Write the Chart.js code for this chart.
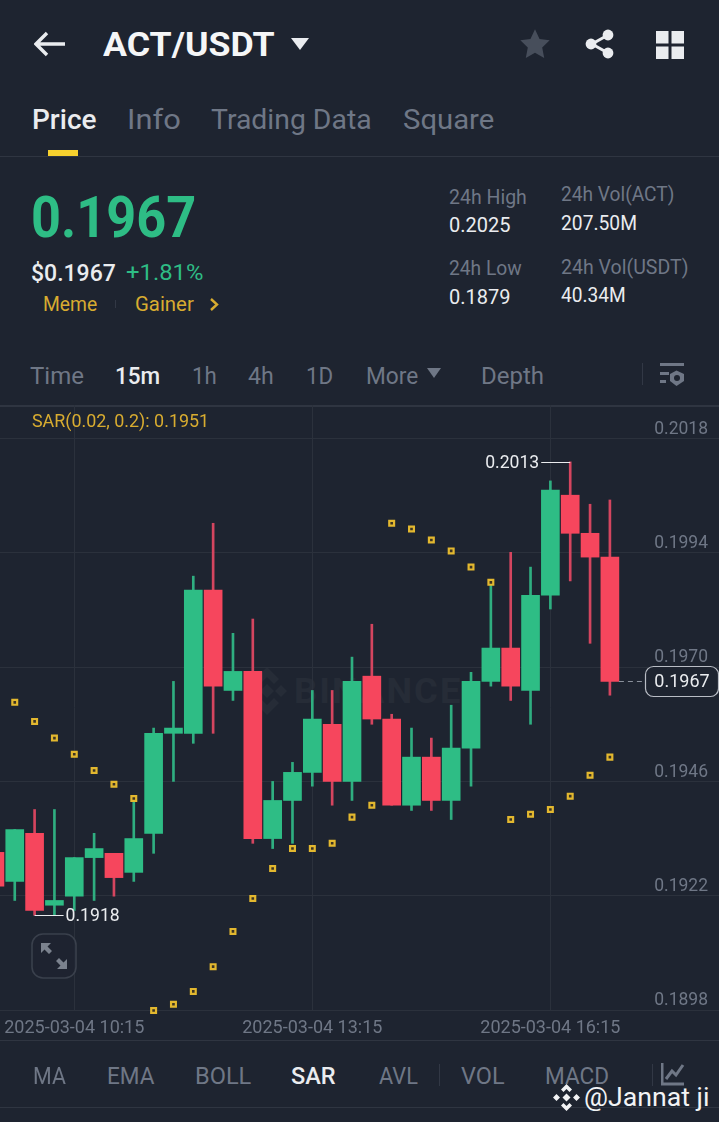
<!DOCTYPE html>
<html>
<head>
<meta charset="utf-8">
<script src="https://cdn.jsdelivr.net/npm/chart.js@4.4.1/dist/chart.umd.js"></script>
<style>
  html, body { margin: 0; padding: 0; background: #1e2430; }
  #page { position: relative; width: 719px; height: 1122px; overflow: hidden; background: #1e2430; font-family: Roboto, sans-serif; }
  .t { position: absolute; white-space: nowrap; transform-origin: left center; line-height: 1; }
  .line { position: absolute; left: 0; width: 719px; height: 1px; background: #2f3541; }
  .vsep { position: absolute; width: 1px; background: #323845; }
  .grey { color: #6f7786; }
  .yel { color: #d8ac30; }
  .wht { color: #eaecef; }
  svg { position: absolute; }
  #chartBox { position: absolute; left: -15px; top: 405px; }
</style>
</head>
<body>
<div id="page">
  <svg style="left:34px;top:31px" width="32" height="26" viewBox="0 0 32 26"><path d="M13 2 L2 13 L13 24 M2 13 H31" fill="none" stroke="#eaecef" stroke-width="3.4"/></svg>
  <span class="t" data-w="172" style="left:103px;top:28px;font-size:33px;font-weight:700;color:#f5f6f7">ACT/USDT</span>
  <svg style="left:290px;top:37px" width="20" height="14"><path d="M1 1 H19 L10 13 Z" fill="#eaecef"/></svg>
  <svg style="left:519px;top:28px" width="32" height="32" viewBox="0 0 24 24"><path d="M12 1 L15.4 8.3 L23 9.2 L17.4 14.6 L18.9 22.5 L12 18.5 L5.1 22.500 L6.6 14.6 L1 9.2 L8.6 8.3 Z" fill="#474e5b"/></svg>
  <svg style="left:584px;top:28px" width="32" height="32" viewBox="0 0 32 32"><path d="M24 7 L8 16 L24 25" fill="none" stroke="#eaecef" stroke-width="3"/><circle cx="24" cy="7" r="5.4" fill="#eaecef"/><circle cx="7" cy="16" r="5.4" fill="#eaecef"/><circle cx="24" cy="25" r="5.4" fill="#eaecef"/></svg>
  <svg style="left:656px;top:31px" width="28" height="28"><path d="M0 0 H12.5 V12.5 H0 Z M15.5 0 H28 V12.5 H15.5 Z M0 15.5 H12.5 V28 H0 Z M15.5 15.5 H28 V28 H15.5 Z" fill="#eaecef"/></svg>

  <span class="t wht" data-w="65" style="left:32px;top:106px;font-size:28px;font-weight:500">Price</span>
  <span class="t grey" data-w="54" style="left:127px;top:106px;font-size:28px">Info</span>
  <span class="t grey" data-w="161" style="left:211px;top:106px;font-size:28px">Trading Data</span>
  <span class="t grey" data-w="91" style="left:403px;top:106px;font-size:28px">Square</span>
  <div style="position:absolute;left:48px;top:150px;width:30px;height:6px;background:#f7d12e"></div>
  <div class="line" style="top:156px"></div>

  <span class="t" data-w="165" style="left:31px;top:188px;font-size:58px;font-weight:700;color:#2ebd85">0.1967</span>
  <span class="t wht" data-w="85" style="left:31px;top:262px;font-size:23px;font-weight:500">$0.1967</span>
  <span class="t" data-w="78" style="left:126px;top:262px;font-size:22px;color:#2ebd85">+1.81%</span>
  <span class="t yel" data-w="54" style="left:43px;top:294px;font-size:20px">Meme</span>
  <div class="vsep" style="left:115px;top:300px;height:8px"></div>
  <span class="t yel" data-w="59" style="left:135px;top:294px;font-size:20px">Gainer</span>
  <svg style="left:209px;top:298px" width="10" height="13"><path d="M2 1 L8 6.5 L2 12" fill="none" stroke="#d8ac30" stroke-width="2.4"/></svg>

  <span class="t grey" data-w="78" style="left:449px;top:187px;font-size:20px">24h High</span>
  <span class="t wht" data-w="61" style="left:449px;top:215px;font-size:20px">0.2025</span>
  <span class="t grey" data-w="73" style="left:449px;top:258px;font-size:20px">24h Low</span>
  <span class="t wht" data-w="61" style="left:449px;top:287px;font-size:20px">0.1879</span>
  <span class="t grey" data-w="113" style="left:561px;top:184px;font-size:20px">24h Vol(ACT)</span>
  <span class="t wht" data-w="76" style="left:561px;top:213px;font-size:20px">207.50M</span>
  <span class="t grey" data-w="127" style="left:561px;top:257px;font-size:20px">24h Vol(USDT)</span>
  <span class="t wht" data-w="65" style="left:561px;top:285px;font-size:20px">40.34M</span>

  <span class="t grey" data-w="54" style="left:30px;top:364px;font-size:24px">Time</span>
  <span class="t wht" data-w="45" style="left:115px;top:364px;font-size:24px;font-weight:500">15m</span>
  <span class="t grey" data-w="25" style="left:192px;top:364px;font-size:24px">1h</span>
  <span class="t grey" data-w="26" style="left:248px;top:364px;font-size:24px">4h</span>
  <span class="t grey" data-w="27" style="left:306px;top:364px;font-size:24px">1D</span>
  <span class="t grey" data-w="52" style="left:366px;top:364px;font-size:24px">More</span>
  <svg style="left:427px;top:368px" width="14" height="11"><path d="M0 0 H14 L7 10 Z" fill="#6f7786"/></svg>
  <span class="t grey" data-w="63" style="left:481px;top:364px;font-size:24px">Depth</span>
  <div class="vsep" style="left:642px;top:363px;height:22px"></div>
  <svg style="left:660px;top:363px" width="24" height="24"><path d="M0 0 H24 V3 H0 Z M0 9 H9 V12 H0 Z M0 17 H6 V20 H0 Z" fill="#6f7786"/><path d="M16.5 7.5 L24 11 V18 L16.5 23 L10 18 V11 Z" fill="#6f7786"/><circle cx="17" cy="15" r="3" fill="#1e2430"/></svg>
  <div class="line" style="top:405px;height:2px"></div>

  <!-- watermark sits under the chart canvas -->
  <svg style="left:244px;top:664px" width="46" height="54" viewBox="0 0 46 54"><path d="M23 3 L35 15 L30 20 L23 13 L16 20 L11 15 Z M23 51 L11 39 L16 34 L23 41 L30 34 L35 39 Z M3 27 L9 21 L15 27 L9 33 Z M31 27 L37 21 L43 27 L37 33 Z M23 20 L30 27 L23 34 L16 27 Z" fill="#262c37"/></svg>
  <span class="t" data-w="168" style="left:294px;top:674px;font-size:35px;font-weight:700;color:#262c37;letter-spacing:2px">BINANCE</span>

  <div id="chartBox"><canvas id="kline" width="734" height="636"></canvas></div>

  <svg style="left:31px;top:933px" width="46" height="46"><rect x="1" y="1" width="44" height="44" rx="11" fill="#1e2430" fill-opacity="0.7" stroke="#3a404c" stroke-width="1.6"/><path d="M10 10 H20 L16.5 13.5 L21 18 L18 21 L13.5 16.5 L10 20 Z M36 36 H26 L29.5 32.5 L25 28 L28 25 L32.5 29.5 L36 26 Z" fill="#7b828e"/></svg>

  <div class="line" style="top:1040px"></div>
  <span class="t grey" data-w="33" style="left:33px;top:1064px;font-size:24px">MA</span>
  <span class="t grey" data-w="47" style="left:107px;top:1064px;font-size:24px">EMA</span>
  <span class="t grey" data-w="56" style="left:195px;top:1064px;font-size:24px">BOLL</span>
  <span class="t wht" data-w="45" style="left:291px;top:1064px;font-size:24px;font-weight:500">SAR</span>
  <span class="t grey" data-w="39" style="left:379px;top:1064px;font-size:24px">AVL</span>
  <div class="vsep" style="left:439px;top:1064px;height:22px"></div>
  <span class="t grey" data-w="44" style="left:461px;top:1064px;font-size:24px">VOL</span>
  <span class="t grey" data-w="64" style="left:545px;top:1064px;font-size:24px">MACD</span>
  <div class="vsep" style="left:652px;top:1064px;height:22px"></div>
  <svg style="left:661px;top:1062px" width="24" height="24"><path d="M1 1 V22 H23" fill="none" stroke="#6f7786" stroke-width="3"/><path d="M5 17 L11 9 L15 13 L22 3" fill="none" stroke="#6f7786" stroke-width="3"/></svg>
  <div class="line" style="top:1107px"></div>

  <svg style="left:552px;top:1083px" width="29" height="29" viewBox="0 0 29 29"><path d="M14.500 1 L20 6.500 L17.500 9 L14.500 6 L11.500 9 L9 6.500 Z M14.500 28 L9 22.500 L11.500 20 L14.500 23 L17.500 20 L20 22.500 Z M1 14.500 L4.500 11 L8 14.500 L4.500 18 Z M21 14.500 L24.500 11 L28 14.500 L24.500 18 Z M14.500 10.500 L18.500 14.500 L14.500 18.500 L10.500 14.500 Z" fill="#f2f3f5"/></svg>
  <span class="t" data-w="126" style="left:584px;top:1085px;font-size:25px;color:#f2f3f5">@Jannat ji</span>
</div>

<script>
const times = [
  "2025-03-04 09:15", "2025-03-04 09:30", "2025-03-04 09:45", "2025-03-04 10:00",
  "2025-03-04 10:15", "2025-03-04 10:30", "2025-03-04 10:45", "2025-03-04 11:00",
  "2025-03-04 11:15", "2025-03-04 11:30", "2025-03-04 11:45", "2025-03-04 12:00",
  "2025-03-04 12:15", "2025-03-04 12:30", "2025-03-04 12:45", "2025-03-04 13:00",
  "2025-03-04 13:15", "2025-03-04 13:30", "2025-03-04 13:45", "2025-03-04 14:00",
  "2025-03-04 14:15", "2025-03-04 14:30", "2025-03-04 14:45", "2025-03-04 15:00",
  "2025-03-04 15:15", "2025-03-04 15:30", "2025-03-04 15:45", "2025-03-04 16:00",
  "2025-03-04 16:15", "2025-03-04 16:30", "2025-03-04 16:45", "2025-03-04 17:00",
  "2025-03-04 17:15", "2025-03-04 17:30", "2025-03-04 17:45", "2025-03-04 18:00",
  "2025-03-04 18:15"
];
const shownTimes = ["2025-03-04 10:15", "2025-03-04 13:15", "2025-03-04 16:15"];
const priceTicks = [0.2018, 0.1994, 0.1970, 0.1946, 0.1922, 0.1898];

const opens = [
  0.19311, 0.19250, 0.19351, 0.19200, 0.19219, 0.19300, 0.19309, 0.19269,
  0.19351, 0.19561, 0.19561, 0.19862, 0.19651, 0.19691, 0.19340, 0.19420,
  0.19479, 0.19580, 0.19460, 0.19681, 0.19591, 0.19410, 0.19511, 0.19420,
  0.19530, 0.19670, 0.19740, 0.19651, 0.19851, 0.20061, 0.19981, 0.19931
];
const closes = [
  0.19240, 0.19359, 0.19189, 0.19210, 0.19300, 0.19319, 0.19258, 0.19340,
  0.19561, 0.19572, 0.19862, 0.19660, 0.19691, 0.19340, 0.19420, 0.19479,
  0.19591, 0.19460, 0.19670, 0.19591, 0.19410, 0.19511, 0.19420, 0.19530,
  0.19670, 0.19740, 0.19660, 0.19851, 0.20072, 0.19981, 0.19931, 0.19670
];
const highs = [
  0.19311, 0.19359, 0.19401, 0.19401, 0.19300, 0.19351, 0.19309, 0.19420,
  0.19572, 0.19670, 0.19891, 0.20002, 0.19771, 0.19801, 0.19460, 0.19500,
  0.19651, 0.19651, 0.19721, 0.19790, 0.19601, 0.19572, 0.19551, 0.19620,
  0.19689, 0.19876, 0.19941, 0.19910, 0.20091, 0.20131, 0.20042, 0.20051
];
const lows = [
  0.19240, 0.19210, 0.19179, 0.19179, 0.19189, 0.19210, 0.19219, 0.19250,
  0.19309, 0.19460, 0.19540, 0.19561, 0.19630, 0.19330, 0.19319, 0.19330,
  0.19450, 0.19410, 0.19420, 0.19580, 0.19410, 0.19399, 0.19399, 0.19380,
  0.19450, 0.19660, 0.19630, 0.19580, 0.19822, 0.19881, 0.19750, 0.19641
];
const sar = [
  null, 0.19626, 0.19586, 0.19551, 0.19517, 0.19483, 0.19454, 0.19424,
  0.18979, 0.18992, 0.19019, 0.19071, 0.19145, 0.19214, 0.19277, 0.19319,
  0.19319, 0.19330, 0.19385, 0.19410, 0.20002, 0.19990, 0.19967, 0.19944,
  0.19910, 0.19878, 0.19380, 0.19391, 0.19401, 0.19429, 0.19473, 0.19511
];

const UP = "#2ebd85";
const DOWN = "#f6465d";
const UP_WICK = "#2fae80";
const DOWN_WICK = "#d4455f";
const GRID = "#2b313c";

function candleColor(i, up, down) {
  return closes[i] >= opens[i] ? up : down;
}

// labels that sit on top of the candles: SAR value, extremes and last price
const overlayPlugin = {
  id: "overlayPlugin",
  afterDatasetsDraw(chart) {
    const { ctx, scales } = chart;
    const x = scales.x;
    const y = scales.y;

    ctx.save();
    ctx.textBaseline = "middle";
    ctx.font = "17.9px Roboto";
    ctx.fillStyle = "#d8ac30";
    ctx.textAlign = "left";
    ctx.fillText("SAR(0.02, 0.2): 0.1951", 47, 18);

    ctx.font = "17.6px Roboto";
    ctx.fillStyle = "#eaecef";
    ctx.strokeStyle = "#eaecef";
    ctx.lineWidth = 1;

    const hiIndex = highs.indexOf(Math.max(...highs));
    const hiX = x.getPixelForValue(hiIndex);
    const hiY = Math.round(y.getPixelForValue(highs[hiIndex])) + 0.5;
    ctx.beginPath();
    ctx.moveTo(hiX, hiY);
    ctx.lineTo(hiX - 29, hiY);
    ctx.stroke();
    ctx.textAlign = "right";
    ctx.fillText(highs[hiIndex].toFixed(4), hiX - 31, hiY + 1);

    const loIndex = lows.indexOf(Math.min(...lows));
    const loX = x.getPixelForValue(loIndex);
    const loY = Math.round(y.getPixelForValue(lows[loIndex])) + 0.5;
    ctx.beginPath();
    ctx.moveTo(loX, loY);
    ctx.lineTo(loX + 29, loY);
    ctx.stroke();
    ctx.textAlign = "left";
    ctx.fillText(lows[loIndex].toFixed(4), loX + 31, loY + 1);

    const last = closes[closes.length - 1];
    const lastY = Math.round(y.getPixelForValue(last)) + 0.5;
    ctx.strokeStyle = "#8a909b";
    ctx.setLineDash([5, 4]);
    ctx.beginPath();
    ctx.moveTo(x.getPixelForValue(closes.length - 1) + 9, lastY);
    ctx.lineTo(660, lastY);
    ctx.stroke();
    ctx.setLineDash([]);

    ctx.fillStyle = "#1e2430";
    ctx.strokeStyle = "#b9bdc5";
    ctx.lineWidth = 1.2;
    ctx.beginPath();
    ctx.roundRect(660.5, lastY - 15, 73, 30, 8);
    ctx.fill();
    ctx.stroke();
    ctx.fillStyle = "#eaecef";
    ctx.font = "18px Roboto";
    ctx.textAlign = "center";
    ctx.fillText(last.toFixed(4), 697, lastY + 1);
    ctx.restore();
  }
};

new Chart(document.getElementById("kline"), {
  data: {
    labels: times,
    datasets: [
      {
        type: "line",
        label: "SAR",
        data: sar,
        showLine: false,
        clip: false,
        pointStyle: "rect",
        pointRadius: 3.4,
        pointBorderWidth: 2.2,
        pointBorderColor: "#e3b82f",
        pointBackgroundColor: "#3d3422",
        order: 0
      },
      {
        type: "bar",
        label: "Body",
        data: opens.map((o, i) => [o, closes[i]]),
        backgroundColor: opens.map((_, i) => candleColor(i, UP, DOWN)),
        barThickness: 18,
        grouped: false,
        borderSkipped: false,
        order: 1
      },
      {
        type: "bar",
        label: "Wick",
        data: lows.map((l, i) => [l, highs[i]]),
        backgroundColor: lows.map((_, i) => candleColor(i, UP_WICK, DOWN_WICK)),
        barThickness: 2,
        grouped: false,
        borderSkipped: false,
        order: 2
      }
    ]
  },
  options: {
    responsive: false,
    animation: false,
    layout: { padding: 0, autoPadding: false },
    plugins: { legend: { display: false }, tooltip: { enabled: false } },
    scales: {
      x: {
        type: "category",
        offset: true,
        border: { display: false },
        afterFit(axis) { axis.height = 31; },
        grid: {
          offset: false,
          drawTicks: false,
          color: (ctx) => shownTimes.includes(times[ctx.index]) ? GRID : "transparent"
        },
        ticks: {
          autoSkip: false,
          maxRotation: 0,
          padding: 8,
          color: "#6f7786",
          font: { family: "Roboto", size: 18 },
          callback(value, index) {
            return shownTimes.includes(times[index]) ? times[index] : "";
          }
        }
      },
      y: {
        position: "right",
        min: 0.1898,
        max: 0.202504,
        border: { display: false },
        afterBuildTicks(axis) {
          axis.ticks = priceTicks.map((value) => ({ value }));
        },
        grid: { drawTicks: false, color: GRID },
        ticks: {
          mirror: true,
          padding: -11,
          labelOffset: -9,
          color: "#6f7786",
          font: { family: "Roboto", size: 17.5 },
          callback: (value) => Number(value).toFixed(4)
        }
      }
    }
  },
  plugins: [overlayPlugin]
});

// squeeze DOM text to the measured widths of the narrow app font
document.querySelectorAll(".t[data-w]").forEach((el) => {
  el.style.transform = `scaleX(${el.dataset.w / el.offsetWidth})`;
});
</script>
</body>
</html>
